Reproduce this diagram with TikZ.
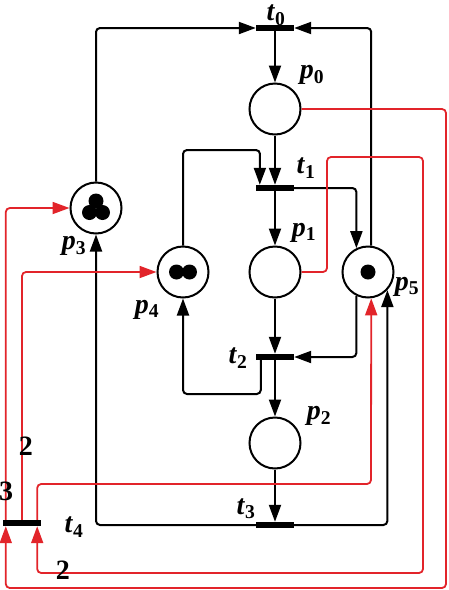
\documentclass[tikz,border=0pt]{standalone}
\usepackage{fontspec}
\setmainfont{Liberation Serif}
\usetikzlibrary{arrows.meta}
\definecolor{pnred}{RGB}{226,36,42}
\newcommand{\lab}[2]{\textbf{\textit{#1}}\textsubscript{\textbf{#2}}}

\begin{document}
\begin{tikzpicture}[x=1pt,y=-1pt,
    place/.style={circle,draw,line width=2pt,minimum size=51pt,inner sep=0pt},
    trans/.style={rectangle,fill=black,minimum width=38pt,minimum height=6pt,inner sep=0pt},
    arc/.style={line width=2pt,rounded corners=4pt,-{Triangle[length=17pt,width=12pt]}},
    redarc/.style={arc,draw=pnred,line width=1.8pt},
    txt/.style={font=\fontsize{28}{30}\selectfont,inner sep=0pt}]
        \useasboundingbox (0,0) rectangle (448,590);
        % places
        \draw (275,109) node[place](p0){};
        \draw (275,272) node[place](p1){};
        \draw (275,443) node[place](p2){};
        \draw (96,208) node[place](p3){};
        \draw (183,272) node[place](p4){};
        \draw (368,272) node[place](p5){};
        % transitions
        \draw (275,28) node[trans](t0){};
        \draw (275,188) node[trans](t1){};
        \draw (275,357) node[trans](t2){};
        \draw (275,525) node[trans](t3){};
        \draw (22,523) node[trans](t4){};
        % bends
        \coordinate (k1) at (260,150);
        \coordinate (k2) at (183,394);
        \coordinate (r1) at (446,588);
        \coordinate (r2) at (327,157);
        \coordinate (r3) at (423,573);
        \coordinate (r4) at (371,484);
        % tokens
        \fill ([shift={(0,-7)}]p3.center) circle (7.5pt);
        \fill ([shift={(-6.5,4.5)}]p3.center) circle (7.5pt);
        \fill ([shift={(6.5,4.5)}]p3.center) circle (7.5pt);
        \fill ([shift={(-6.5,0)}]p4.center) circle (7.5pt);
        \fill ([shift={(6.5,0)}]p4.center) circle (7.5pt);
        \fill (p5.center) circle (7.5pt);
        % black arcs
        \draw[arc] (t0.south) -- (p0.north);
        \draw[arc] (p3.north) |- (t0.west);
        \draw[arc] (p5.83) |- (t0.east);
        \draw[arc] (p0.south) -- (t1.north);
        \draw[arc] (p4.north) |- (k1) -- ([xshift=4pt]t1.north west);
        \draw[arc] (t1.south) -- (p1.north);
        \draw[arc] (t1.east) -| (p5.116);
        \draw[arc] (p1.south) -- (t2.north);
        \draw[arc] (p5.244) |- (t2.east);
        \draw[arc] ([xshift=5pt]t2.south west) |- (k2) -- (p4.south);
        \draw[arc] (t2.south) -- (p2.north);
        \draw[arc] (p2.south) -- (t3.north);
        \draw[arc] (t3.west) -| (p3.south);
        \draw[arc] (t3.east) -| (p5.317);
        % red arcs
        \draw[redarc] (p0.east) -| (r1) -| ([xshift=3pt]t4.south west);
        \draw[redarc] (p1.east) -| (r2) -| (r3) -| ([xshift=-4pt]t4.south east);
        \draw[redarc] ([xshift=3pt]t4.north west) |- (p3.west);
        \draw[redarc] (t4.north) |- (p4.west);
        \draw[redarc] ([xshift=-4pt]t4.north east) |- (r4) -- (p5.277);
        % labels
        \node[txt] (lt0) at (276,15) {\lab{t}{0}};
        \node[txt] (lp0) at (312,75) {\lab{p}{0}};
        \node[txt] (lt1) at (306,168) {\lab{t}{1}};
        \node[txt] (lp1) at (304,233) {\lab{p}{1}};
        \node[txt] (lp3) at (74,246) {\lab{p}{3}};
        \node[txt] (lp4) at (147,310) {\lab{p}{4}};
        \node[txt] (lp5) at (407,287) {\lab{p}{5}};
        \node[txt] (lt2) at (238,358) {\lab{t}{2}};
        \node[txt] (lp2) at (319,416) {\lab{p}{2}};
        \node[txt] (lt3) at (246,509) {\lab{t}{3}};
        \node[txt] (lt4) at (74,527) {\lab{t}{4}};
        \node[txt] (w3) at (6,491) {\textbf{3}};
        \node[txt] (w2a) at (26,446) {\textbf{2}};
        \node[txt] (w2b) at (63,570) {\textbf{2}};
      \end{tikzpicture}
\end{document}
